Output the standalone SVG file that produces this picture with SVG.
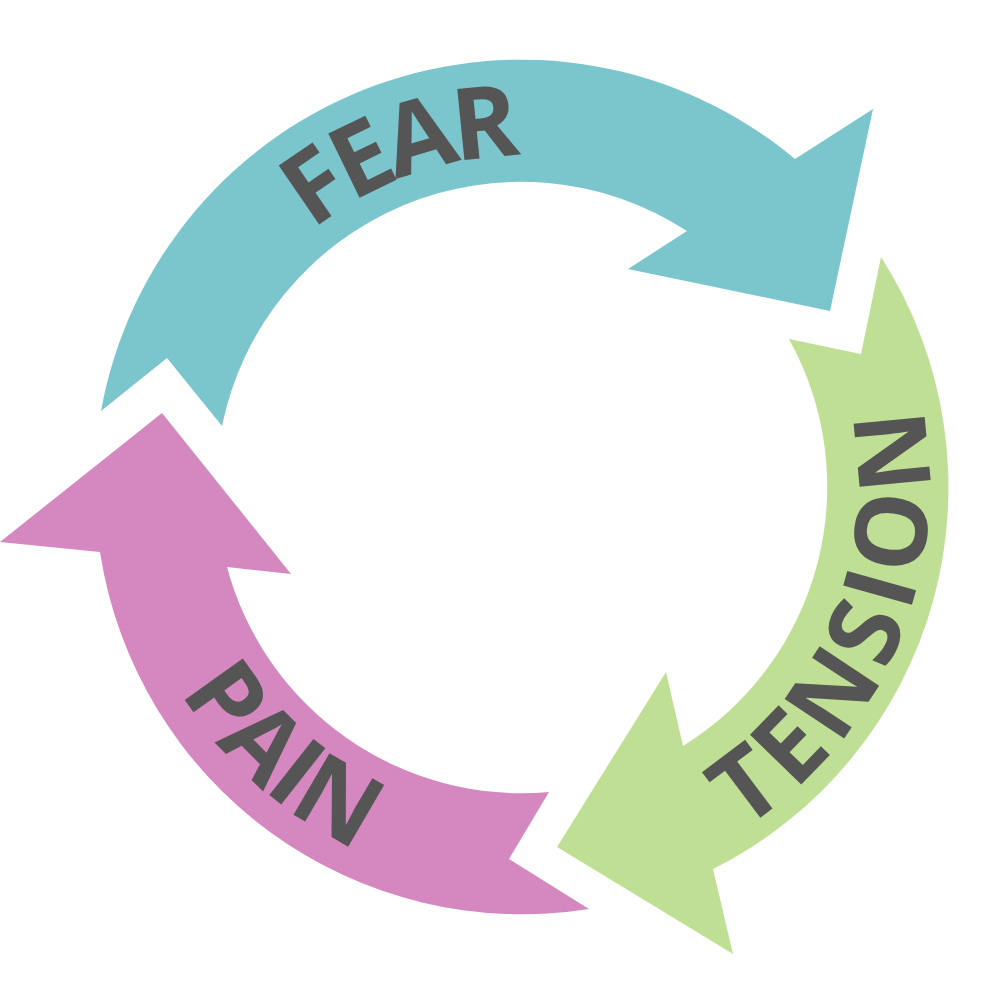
<svg xmlns="http://www.w3.org/2000/svg" width="1000" height="1000" viewBox="0 0 1000 1000">
<style>
.lbl{font-family:"Open Sans",Lato,"Liberation Sans",sans-serif;font-weight:700;font-size:100px;fill:#555555}
</style>
<defs>
<path id="pFear" d="M 195.9 427.3 A 331 331 0 0 1 736.0 234.9"/>
<path id="pTension" d="M 571.2 891.9 A 408 408 0 0 0 847.3 241.5"/>
<path id="pPain" d="M 131.8 406.3 A 398 398 0 0 0 646.5 864.9"/>
</defs>
<rect width="1000" height="1000" fill="#ffffff"/>
<g id="connectors"></g>
<g id="fear">
<path fill="#7BC5CD" d="M 101 411 A 427 427 0 0 1 795 159 L 873 109 L 830 311 L 628 269 L 687 231 A 305 305 0 0 0 222 426 L 167 358 Z"/>
<text class="lbl" text-anchor="middle"><textPath href="#pFear" startOffset="50%" textLength="226" lengthAdjust="spacing">FEAR</textPath></text>
</g>
<g id="tension">
<path fill="#BFE094" d="M 881 257 A 427 427 0 0 1 713 869 L 733 954 L 557 847 L 666 672 L 683 746 A 305 305 0 0 0 789 339 L 861 354 Z"/>
<text class="lbl" text-anchor="middle"><textPath href="#pTension" startOffset="50%" textLength="486" lengthAdjust="spacing">TENSION</textPath></text>
</g>
<g id="pain">
<path fill="#D588BF" d="M 589 909 A 427 427 0 0 1 100 552 L 0 542 L 162 413 L 291 574 L 227 567 A 305 305 0 0 0 549 792 L 509 859 Z"/>
<text class="lbl" text-anchor="middle"><textPath href="#pPain" startOffset="50%" textLength="240" lengthAdjust="spacing">PAIN</textPath></text>
</g>
</svg>
